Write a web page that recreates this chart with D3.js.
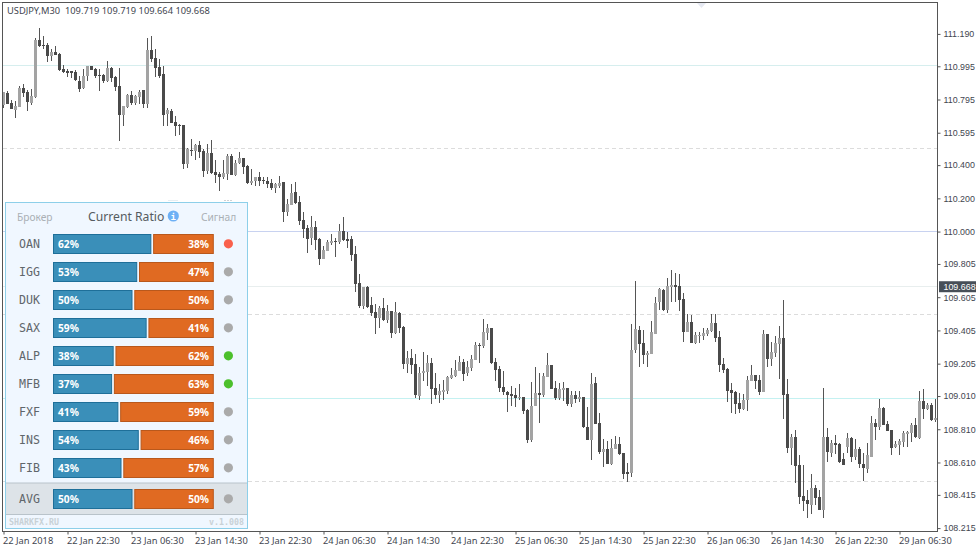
<!DOCTYPE html>
<html><head><meta charset="utf-8">
<script src="https://cdnjs.cloudflare.com/ajax/libs/d3/7.8.5/d3.min.js"></script>
<style>html,body{margin:0;padding:0;background:#fff}svg{display:block}</style>
</head><body><svg id="c" width="980" height="548"></svg>
<script>
const highs=[110.832,110.838,110.786,110.780,110.870,110.882,110.846,110.850,111.157,111.219,
111.171,111.127,111.093,111.111,111.067,110.997,110.970,110.962,110.966,110.930,
110.972,110.990,110.990,110.978,110.974,110.942,111.021,110.984,110.930,110.978,
110.750,110.822,110.840,110.816,110.846,110.846,111.161,111.171,111.093,111.033,
110.990,110.738,110.732,110.690,110.642,110.636,110.497,110.551,110.521,110.539,
110.491,110.521,110.545,110.425,110.352,110.425,110.461,110.461,110.425,110.473,
110.437,110.392,110.370,110.322,110.352,110.322,110.322,110.310,110.286,110.328,
110.292,110.190,110.280,110.292,110.208,110.111,110.033,110.087,110.057,109.953,
109.907,109.943,109.979,109.955,110.039,110.081,109.991,109.967,109.907,109.738,
109.660,109.666,109.600,109.557,109.545,109.593,109.551,109.515,109.569,109.509,
109.425,109.274,109.286,109.256,109.178,109.268,109.250,109.232,109.142,109.076,
109.100,109.124,109.172,109.220,109.244,109.226,109.214,109.250,109.329,109.323,
109.468,109.438,109.414,109.233,109.185,109.155,109.034,109.064,109.052,109.076,
108.998,108.926,109.089,109.179,109.143,109.143,109.263,109.191,109.094,109.082,
109.088,109.052,109.034,109.034,109.034,108.998,108.938,109.143,109.119,108.902,
108.745,108.733,108.745,108.763,108.757,108.661,108.601,109.438,109.697,109.426,
109.402,109.275,109.456,109.600,109.654,109.648,109.715,109.763,109.745,109.739,
109.624,109.498,109.492,109.389,109.389,109.414,109.414,109.497,109.497,109.395,
109.233,109.172,109.082,109.034,109.022,109.016,109.124,109.190,109.130,109.130,
109.401,109.377,109.329,109.365,109.425,109.582,109.106,108.775,108.799,108.648,
108.588,108.438,108.534,108.468,108.438,109.052,108.811,108.739,108.769,108.721,
108.660,108.781,108.757,108.745,108.697,108.660,108.721,108.883,108.865,108.986,
108.938,108.853,108.799,108.733,108.745,108.793,108.793,108.841,108.871,109.034,
109.046,108.962,108.962,108.986];
const lows=[110.740,110.760,110.732,110.679,110.744,110.806,110.720,110.756,110.798,111.103,
111.093,111.015,111.021,111.057,110.963,110.948,110.924,110.918,110.900,110.834,
110.852,110.900,110.966,110.918,110.840,110.888,110.894,110.894,110.838,110.539,
110.629,110.736,110.756,110.756,110.762,110.736,110.736,111.015,110.924,110.918,
110.629,110.629,110.646,110.569,110.575,110.371,110.379,110.449,110.425,110.439,
110.322,110.340,110.340,110.284,110.238,110.310,110.304,110.334,110.328,110.401,
110.340,110.280,110.274,110.268,110.268,110.280,110.256,110.244,110.226,110.256,
110.051,110.087,110.153,110.159,110.033,109.955,109.864,109.913,109.882,109.792,
109.828,109.876,109.913,109.840,109.919,109.937,109.895,109.816,109.630,109.533,
109.527,109.533,109.485,109.377,109.413,109.455,109.443,109.353,109.377,109.383,
109.166,109.142,109.136,108.991,108.979,109.094,109.064,108.955,108.985,108.961,
108.979,109.016,109.106,109.118,109.154,109.094,109.124,109.154,109.220,109.203,
109.293,109.341,109.197,109.094,109.028,109.010,108.908,108.944,108.938,108.980,
108.896,108.721,108.727,108.944,108.842,108.998,109.119,109.046,108.980,108.980,
108.974,108.944,108.938,108.962,108.968,108.811,108.739,108.619,108.836,108.655,
108.577,108.595,108.589,108.685,108.649,108.505,108.487,108.517,109.263,109.179,
109.197,109.179,109.257,109.377,109.522,109.516,109.504,109.570,109.570,109.516,
109.329,109.389,109.323,109.317,109.323,109.341,109.365,109.389,109.329,109.148,
109.142,108.968,108.901,108.895,108.901,108.919,108.913,109.094,109.046,109.010,
109.028,109.178,109.184,109.239,109.106,108.865,108.661,108.588,108.480,108.354,
108.311,108.269,108.293,108.347,108.317,108.269,108.606,108.636,108.655,108.600,
108.588,108.660,108.606,108.618,108.570,108.492,108.540,108.636,108.739,108.799,
108.829,108.793,108.648,108.691,108.648,108.697,108.697,108.727,108.751,108.745,
108.865,108.919,108.853,108.847];
const opens=[110.756,110.830,110.768,110.726,110.744,110.858,110.834,110.768,110.804,111.147,
111.117,111.117,111.051,111.075,111.063,110.973,110.960,110.960,110.954,110.900,
110.858,110.930,110.990,110.972,110.936,110.936,110.900,110.978,110.924,110.870,
110.696,110.744,110.816,110.768,110.804,110.846,110.762,111.087,111.039,110.984,
110.942,110.702,110.720,110.654,110.636,110.636,110.401,110.483,110.479,110.515,
110.479,110.358,110.467,110.352,110.342,110.322,110.340,110.449,110.334,110.407,
110.437,110.386,110.286,110.298,110.322,110.304,110.298,110.286,110.256,110.268,
110.292,110.111,110.153,110.232,110.171,110.063,110.015,109.955,110.021,109.949,
109.828,109.876,109.925,109.937,109.931,109.997,109.949,109.949,109.858,109.684,
109.545,109.660,109.551,109.509,109.473,109.533,109.461,109.515,109.383,109.503,
109.419,109.196,109.232,109.196,109.003,109.142,109.148,109.202,109.052,109.009,
109.028,109.034,109.112,109.124,109.154,109.208,109.142,109.172,109.220,109.311,
109.305,109.383,109.414,109.209,109.167,109.058,109.028,109.016,109.010,108.990,
108.998,108.920,108.739,108.944,109.022,109.010,109.119,109.191,109.052,108.992,
109.040,109.052,108.956,109.010,108.986,108.998,108.817,108.739,109.082,108.842,
108.667,108.685,108.595,108.685,108.715,108.661,108.547,108.541,109.281,109.402,
109.323,109.251,109.257,109.377,109.570,109.642,109.522,109.660,109.672,109.666,
109.588,109.389,109.450,109.323,109.365,109.365,109.377,109.395,109.443,109.359,
109.196,109.166,109.040,109.028,108.962,108.925,108.980,109.094,109.130,109.100,
109.028,109.377,109.227,109.263,109.317,109.353,109.016,108.691,108.757,108.588,
108.402,108.378,108.347,108.450,108.396,108.317,108.757,108.660,108.721,108.715,
108.624,108.697,108.751,108.636,108.685,108.594,108.564,108.636,108.841,108.817,
108.932,108.835,108.799,108.697,108.709,108.727,108.775,108.781,108.829,108.751,
108.974,108.925,108.950,108.859];
const closes=[110.832,110.762,110.732,110.750,110.858,110.828,110.774,110.810,111.147,111.111,
111.113,111.051,111.075,111.057,110.967,110.954,110.948,110.948,110.906,110.852,
110.930,110.990,110.966,110.928,110.930,110.900,110.978,110.918,110.864,110.696,
110.750,110.816,110.768,110.810,110.834,110.762,111.087,111.033,110.978,110.930,
110.696,110.726,110.648,110.629,110.634,110.401,110.491,110.479,110.515,110.473,
110.358,110.467,110.346,110.334,110.324,110.346,110.449,110.334,110.407,110.437,
110.382,110.286,110.298,110.322,110.298,110.298,110.280,110.256,110.280,110.286,
110.111,110.159,110.226,110.165,110.057,110.009,109.949,110.021,109.943,109.828,
109.882,109.931,109.937,109.933,109.997,109.943,109.937,109.852,109.678,109.545,
109.660,109.539,109.503,109.473,109.533,109.461,109.515,109.383,109.509,109.413,
109.196,109.232,109.190,109.009,109.142,109.154,109.202,109.046,109.009,109.034,
109.040,109.118,109.130,109.160,109.208,109.136,109.178,109.226,109.311,109.307,
109.389,109.414,109.203,109.161,109.052,109.028,109.010,109.004,108.992,108.998,
108.914,108.739,108.944,109.022,109.010,109.125,109.191,109.046,108.992,109.046,
109.052,108.956,109.010,108.986,108.998,108.817,108.739,109.076,108.836,108.667,
108.685,108.595,108.691,108.715,108.655,108.535,108.535,109.281,109.408,109.317,
109.251,109.263,109.389,109.564,109.648,109.522,109.666,109.672,109.660,109.582,
109.389,109.450,109.323,109.371,109.371,109.383,109.402,109.443,109.353,109.190,
109.160,109.034,109.022,108.956,108.925,108.980,109.100,109.130,109.094,109.028,
109.377,109.227,109.269,109.323,109.353,109.010,108.691,108.757,108.582,108.396,
108.372,108.354,108.450,108.390,108.317,108.757,108.667,108.721,108.709,108.606,
108.588,108.751,108.636,108.685,108.594,108.570,108.648,108.841,108.817,108.932,
108.829,108.793,108.691,108.715,108.733,108.781,108.787,108.829,108.757,108.974,
108.925,108.950,108.859,108.871];

const priceTicks=[111.190,110.995,110.795,110.595,110.400,110.200,110.000,109.805,109.605,109.405,109.205,109.010,108.810,108.610,108.415,108.215];
const timeLabels=["22 Jan 2018","22 Jan 22:30","23 Jan 06:30","23 Jan 14:30","23 Jan 22:30","24 Jan 06:30","24 Jan 14:30","24 Jan 22:30","25 Jan 06:30","25 Jan 14:30","25 Jan 22:30","26 Jan 06:30","26 Jan 14:30","26 Jan 22:30","29 Jan 06:30"];
const barsPerLabel=16;
const solidLevels=[110.994,110.000,109.665,108.990];
const solidColors=["#d6eeee","#c8d2f0","#e8eeee","#c4f1f1"];
const dashedLevels=[110.497,109.496,108.491];
const lastPrice=109.668;
const titleText="USDJPY,M30  109.719 109.719 109.664 109.668";

const brokers=["OAN","IGG","DUK","SAX","ALP","MFB","FXF","INS","FIB"];
const longPct=[62,53,50,59,38,37,41,54,43];
const signals=["red","gray","gray","gray","green","green","gray","gray","gray"];
const avgPct=50;

const FONT='"Noto Sans",sans-serif', AXF='"Liberation Sans",sans-serif', MONO='"DejaVu Sans Mono",monospace';
const svg=d3.select("#c");
svg.append("rect").attr("width",980).attr("height",548).attr("fill","#fff");

const x=d3.scaleLinear().domain([0,233]).range([3.5,935.5]);
const y=d3.scaleLinear().domain([111.388,108.215]).range([0,527.1]);
const py=v=>Math.round(y(v));

// levels
svg.append("g").selectAll("line").data(solidLevels).join("line")
 .attr("x1",3).attr("x2",937).attr("y1",d=>py(d)+.5).attr("y2",d=>py(d)+.5)
 .attr("stroke",(d,i)=>solidColors[i]).attr("stroke-width",1);
svg.append("g").selectAll("line").data(dashedLevels).join("line")
 .attr("x1",3).attr("x2",937).attr("y1",d=>py(d)+.5).attr("y2",d=>py(d)+.5)
 .attr("stroke","#dcdcdc").attr("stroke-dasharray","4 3");

// faint chart objects
svg.append("path").attr("d","M697 3H706L701.5 8Z").attr("fill","#e6e9f2");
svg.append("line").attr("x1",168).attr("x2",178).attr("y1",200.5).attr("y2",200.5).attr("stroke","#e6eef2");
svg.append("line").attr("x1",224).attr("x2",233).attr("y1",200.5).attr("y2",200.5).attr("stroke","#cfd2d4").attr("stroke-dasharray","2 1");

// candles
const idx=d3.range(highs.length);
svg.append("clipPath").attr("id","plot").append("rect").attr("x",3).attr("y",3).attr("width",934).attr("height",528);
const bars=svg.append("g").attr("clip-path","url(#plot)");
bars.selectAll("rect.w").data(idx).join("rect").attr("class","w")
 .attr("x",i=>x(i)-.5).attr("width",1)
 .attr("y",i=>py(highs[i])).attr("height",i=>Math.max(1,py(lows[i])-py(highs[i])))
 .attr("fill","#555");
bars.selectAll("rect.b").data(idx).join("rect").attr("class","b")
 .attr("x",i=>x(i)-1.5).attr("width",3)
 .attr("y",i=>py(Math.max(opens[i],closes[i])))
 .attr("height",i=>Math.max(1,py(Math.min(opens[i],closes[i]))-py(Math.max(opens[i],closes[i]))))
 .attr("fill",i=>closes[i]>=opens[i]?"#a3a3a3":"#4a4a4a");

// frame
svg.append("rect").attr("x",2.5).attr("y",2.5).attr("width",935).attr("height",529)
 .attr("fill","none").attr("stroke","#555");

// axes
const yAxis=d3.axisRight(y).tickValues(priceTicks).tickSize(3).tickPadding(3).tickFormat(d3.format(".3f"));
const gy=svg.append("g").attr("transform","translate(937.5,1)").call(yAxis);
const xAxis=d3.axisBottom(x).tickValues(timeLabels.map((d,k)=>k*barsPerLabel)).tickSize(3).tickPadding(3)
 .tickFormat(d=>timeLabels[d/barsPerLabel]);
const gx=svg.append("g").attr("transform","translate(0,531.5)").call(xAxis);
[gy,gx].forEach(g=>{g.select(".domain").remove();
 g.selectAll("line").attr("stroke","#555");
 g.selectAll("text").attr("fill","#3f4650");});
gy.selectAll("text").style("font-family",AXF).style("font-size","8.9px");
gx.selectAll("text").style("font-family",FONT).style("font-size","9.3px").attr("text-anchor","start").attr("dx",-1);

// title
svg.append("text").attr("x",7).attr("y",13.5).attr("fill","#3f4650").style("font-family",FONT).style("font-size","9.3px")
 .style("white-space","pre").text(titleText);

// price tag
const tagY=y(lastPrice)+.5;
svg.append("rect").attr("x",939).attr("y",tagY-5).attr("width",37).attr("height",11).attr("fill","#474f58");
svg.append("text").attr("x",943.5).attr("y",tagY+3.6).attr("fill","#fff").style("font-family",AXF).style("font-size","8.9px").text(lastPrice.toFixed(3));

// panel
const panel=svg.append("g");
panel.append("rect").attr("x",5.5).attr("y",202.5).attr("width",242).attr("height",326)
 .attr("fill","#f0f7ff").attr("stroke","#8dcfe9");
panel.append("rect").attr("x",6).attr("y",483).attr("width",241).attr("height",31.5)
 .attr("fill","#dde3e8");
[483,514.5].forEach(v=>panel.append("line").attr("x1",6).attr("x2",247).attr("y1",v).attr("y2",v).attr("stroke","#b9c3ca"));

const headStyle=(s,size,fill)=>s.attr("fill",fill).style("font-family",FONT).style("font-size",size);
headStyle(panel.append("text").attr("x",17).attr("y",220.5),"10.2px","#aab0b5").text("Брокер");
headStyle(panel.append("text").attr("x",88).attr("y",221),"12.2px","#555b60").text("Current Ratio");
headStyle(panel.append("text").attr("x",201).attr("y",220.5),"10.2px","#aab0b5").text("Сигнал");
panel.append("circle").attr("cx",173.3).attr("cy",216).attr("r",5.6).attr("fill","#6db0f5");
panel.append("text").attr("x",173.3).attr("y",219.5).attr("text-anchor","middle").attr("fill","#fff")
 .style("font-family",MONO).style("font-weight","bold").style("font-size","9px").text("i");

const bx=d3.scaleLinear().domain([0,100]).range([53.5,210.5]);
const rowY=d3.scaleLinear().domain([0,8]).range([244,468]);
const dotColor={red:"#f9604c",gray:"#aaaaaa",green:"#4cc02c"};
function row(name,pct,sig,cy){
 const g=panel.append("g");
 g.append("text").attr("x",19).attr("y",cy+4).attr("fill","#5f666b").style("font-family",MONO).style("font-size","11.6px").text(name);
 g.append("rect").attr("x",bx(0)).attr("y",cy-9.5).attr("width",bx(pct)-bx(0)).attr("height",19)
  .attr("fill","#3a8fb9").attr("stroke","#1e6f99");
 g.append("rect").attr("x",bx(pct)+2.8).attr("y",cy-9.5).attr("width",bx(100)-bx(pct)).attr("height",19)
  .attr("fill","#e06a22").attr("stroke","#b9581c");
 const t=(xx,a,s)=>g.append("text").attr("x",xx).attr("y",cy+3.8).attr("text-anchor",a).attr("fill","#fff")
  .style("font-family",FONT).style("font-weight","bold").style("font-size","10.2px").text(s);
 t(58,"start",pct+"%"); t(209,"end",(100-pct)+"%");
 g.append("circle").attr("cx",228.4).attr("cy",cy-.2).attr("r",4.6).attr("fill",dotColor[sig]);
}
brokers.forEach((b,k)=>row(b,longPct[k],signals[k],rowY(k)));
row("AVG",avgPct,"gray",499);
panel.append("text").attr("x",9).attr("y",525).attr("fill","#c8d1d6").style("font-family",MONO).style("font-weight","bold").style("font-size","8.3px").text("SHARKFX.RU");
panel.append("text").attr("x",244).attr("y",525).attr("text-anchor","end").attr("fill","#c8d1d6").style("font-family",MONO).style("font-weight","bold").style("font-size","8.3px").text("v.1.008");
</script>
</body></html>
